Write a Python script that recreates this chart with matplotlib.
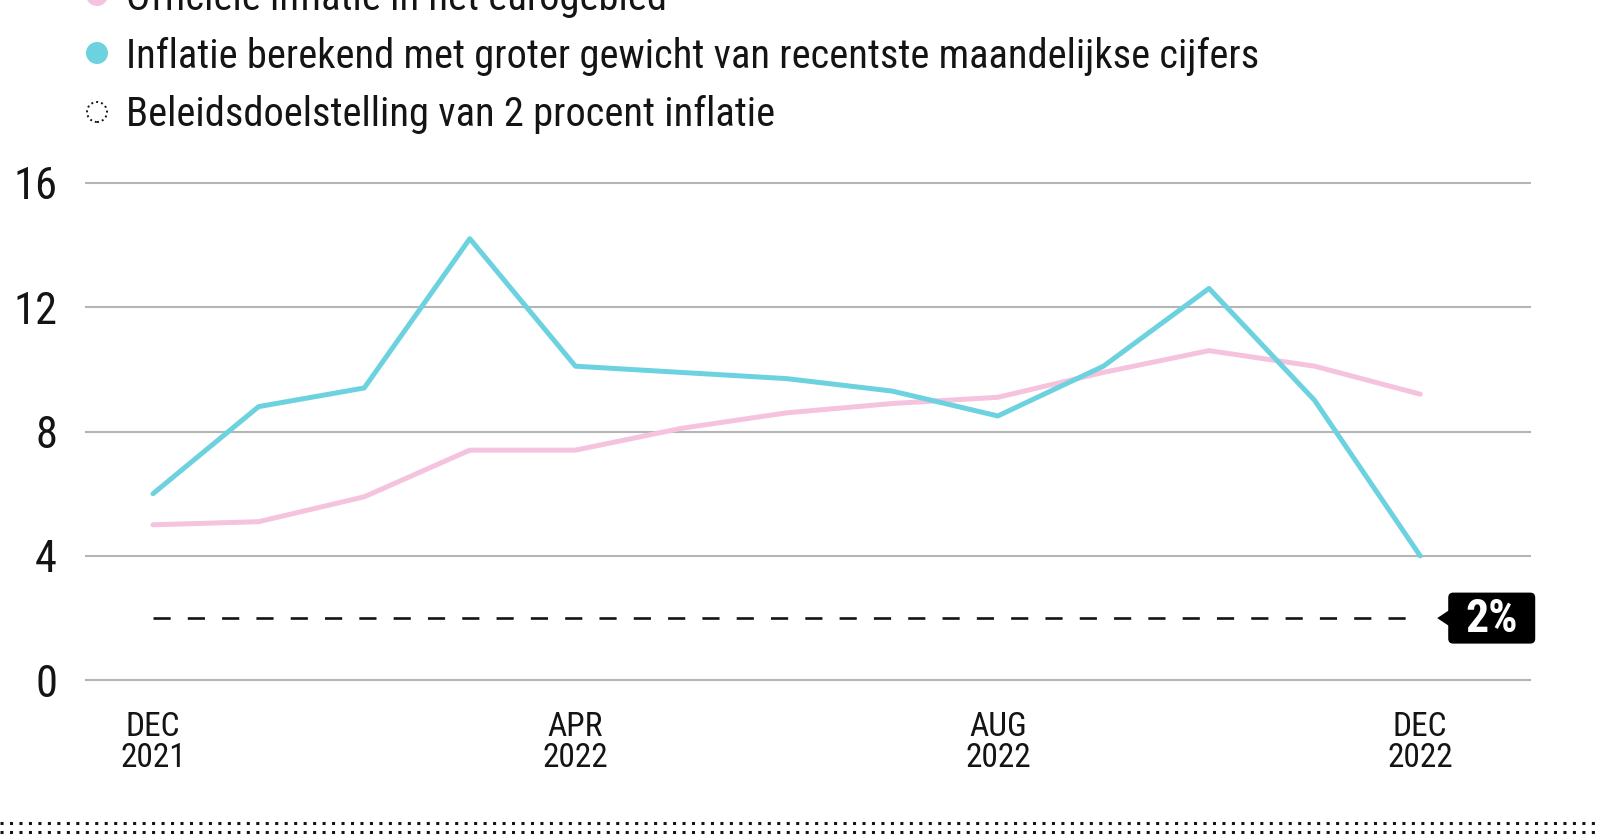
import matplotlib
matplotlib.use("Agg")
import matplotlib.pyplot as plt
from matplotlib import font_manager as fm
from matplotlib.patches import Circle, FancyBboxPatch, Polygon
from matplotlib.lines import Line2D
from matplotlib.transforms import IdentityTransform

# ---------------- data ----------------
months = list(range(13))  # Dec 2021 .. Dec 2022
official = [5.0, 5.1, 5.9, 7.4, 7.4, 8.1, 8.6, 8.9, 9.1, 9.9, 10.6, 10.1, 9.2]
weighted = [6.0, 8.8, 9.4, 14.2, 10.1, 9.9, 9.7, 9.3, 8.5, 10.1, 12.6, 9.0, 4.0]
target = 2
tick_pos = [0, 4, 8, 12]
tick_labels = ["DEC\n2021", "APR\n2022", "AUG\n2022", "DEC\n2022"]
yticks = [0, 4, 8, 12, 16]
legend_labels = [
    "Officiële inflatie in het eurogebied",
    "Inflatie berekend met groter gewicht van recentste maandelijkse cijfers",
    "Beleidsdoelstelling van 2 procent inflatie",
]
target_label = "2%"

PINK = "#f5c3dd"
CYAN = "#6dd2df"
GRID = "#b5b5b5"
INK = "#141414"

# ---------------- font choice ----------------
names = {f.name for f in fm.fontManager.ttflist}
font = "DejaVu Sans"
stretch = "normal"
for cand in ["Roboto Condensed", "Liberation Sans Narrow", "Open Sans Condensed"]:
    if cand in names:
        font = cand
        break
else:
    if any(f.name == "DejaVu Sans" and f.stretch == "condensed" for f in fm.fontManager.ttflist):
        stretch = "condensed"
plt.rcParams["font.family"] = [font, "DejaVu Sans"]
plt.rcParams["font.stretch"] = stretch

W, H = 1600, 836
fig = plt.figure(figsize=(W / 100, H / 100), dpi=100)

def fx(x):
    return x / W

def fy(y):
    return 1 - y / H

# axes: gridlines span x 85..1531, y 16 at 182.7, 0 at 680.3
ax = fig.add_axes([fx(85), fy(680.3), (1531 - 85) / W, (680.3 - 182.7) / H])
ax.set_xlim(-0.644, 13.049)
ax.set_ylim(0, 16)
for s in ax.spines.values():
    s.set_visible(False)
ax.hlines(yticks, -0.644, 13.049, color=GRID, lw=1.5, clip_on=False, zorder=1)
ax.set_yticks(yticks)
ax.set_yticklabels([str(v) for v in yticks], fontsize=32, color=INK)
ax.tick_params(axis="y", length=0, pad=20)
for lab in ax.get_yticklabels():
    lab.set_horizontalalignment("right")
ax.set_xticks(tick_pos)
ax.set_xticklabels(tick_labels, fontsize=24, color=INK, linespacing=0.95)
ax.tick_params(axis="x", length=0, pad=22)

ax.plot(months, official, color=PINK, lw=3.6, solid_capstyle="round", zorder=3, clip_on=False)
ax.plot(months, weighted, color=CYAN, lw=3.6, solid_capstyle="round", zorder=4, clip_on=False)
ax.plot([months[0], months[-1]], [target, target], color=INK, lw=1.9,
        ls=(0, (6.5, 6.5)), zorder=2)

# 2% label box with pointer
ax_px = ax.transData.transform((months[-1], target))
axx, axy = ax_px
box = FancyBboxPatch((axx + 28, axy - 25.5), 87, 51,
                     boxstyle="round,pad=0,rounding_size=5",
                     fc="black", ec="none", transform=IdentityTransform(), zorder=5)
fig.patches.append(box)
tri = Polygon([[axx + 17, axy], [axx + 29, axy + 8], [axx + 29, axy - 8]],
              closed=True, fc="black", ec="none", transform=IdentityTransform())
fig.patches.append(tri)
fig.text(fx(axx + 71.5), (axy - 1) / H, target_label, color="white", fontsize=33,
         fontweight="bold", ha="center", va="center", zorder=6)

# legend
rows_y = [9.5, 68, 126.5]  # baselines in pixels from top
text_x = 125.6
leg_size = 34
txts = []
for lab, by in zip(legend_labels, rows_y):
    t = fig.text(fx(text_x), fy(by), lab, fontsize=leg_size, color=INK,
                 ha="left", va="baseline")
    txts.append(t)
# fit width of the long line to the reference width (~1136 px)
fig.canvas.draw()
r = fig.canvas.get_renderer()
wid = txts[1].get_window_extent(r).width
scale = min(1.0, 1136 / wid)
for t in txts:
    t.set_fontsize(leg_size * scale)

fig.patches.append(Circle((97, H - (-5)), 11, fc=PINK, ec="none", transform=IdentityTransform()))
fig.patches.append(Circle((97, H - 53), 11, fc=CYAN, ec="none", transform=IdentityTransform()))
fig.patches.append(Circle((97, H - 112), 10, fc="white", ec=INK, lw=1.4,
                          ls=(0, (1, 1.6)), transform=IdentityTransform()))

# dotted bottom border
for yy in [823, 832]:
    fig.lines.append(Line2D([0, 1], [fy(yy), fy(yy)], transform=fig.transFigure,
                            color=INK, lw=2.2, ls=(0, (1, 2.1)), solid_capstyle="butt"))

fig.savefig("out.png", dpi=100, facecolor="white")
